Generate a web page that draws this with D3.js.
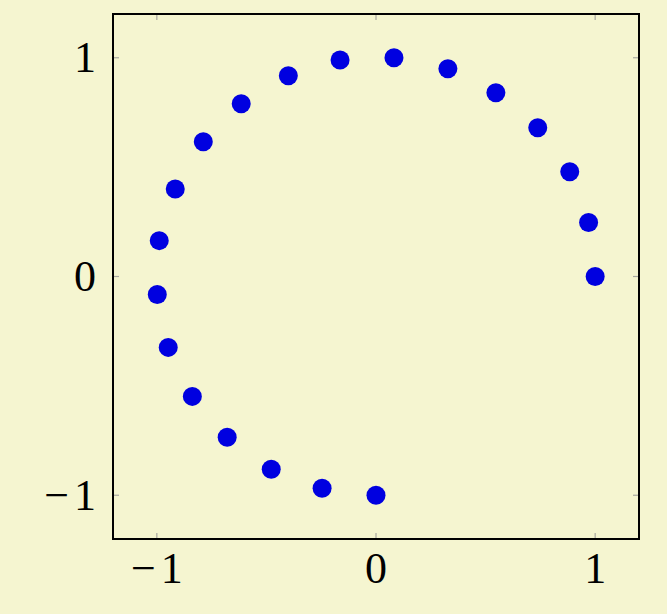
<!DOCTYPE html>
<html><head><meta charset="utf-8">
<script src="https://cdn.jsdelivr.net/npm/d3@7"></script>
<style>
body{margin:0;background:#f5f5d0;}
svg{display:block;}
text{font-family:"Liberation Serif","DejaVu Serif",serif;}
</style></head>
<body><svg id="c" width="667" height="614"></svg>
<script>
const xValues = [1.0, 0.97, 0.884, 0.738, 0.547, 0.328, 0.082, -0.164, -0.40, -0.615, -0.788, -0.916, -0.989, -0.998, -0.948, -0.838, -0.679, -0.478, -0.246, 0.0];
const yValues = [0.0, 0.247, 0.479, 0.68, 0.84, 0.95, 1.0, 0.99, 0.918, 0.79, 0.616, 0.40, 0.164, -0.082, -0.324, -0.548, -0.735, -0.881, -0.968, -1.0];
const xTicks = [-1, 0, 1];
const yTicks = [-1, 0, 1];
const tickLabels = ["\u22121", "0", "1"];

const svg = d3.select("#c");
const L = 113, R = 639, T = 14, B = 539;
const x = d3.scaleLinear().domain([-1.2, 1.2]).range([L, R]);
const y = d3.scaleLinear().domain([-1.2, 1.2]).range([B, T]);

const g = svg.append("g");
xTicks.forEach(t => {
  g.append("line").attr("x1", x(t)).attr("x2", x(t)).attr("y1", B).attr("y2", B - 6).attr("stroke", "#a8a8a0").attr("stroke-width", 1.2);
  g.append("line").attr("x1", x(t)).attr("x2", x(t)).attr("y1", T).attr("y2", T + 6).attr("stroke", "#a8a8a0").attr("stroke-width", 1.2);
});
yTicks.forEach(t => {
  g.append("line").attr("y1", y(t)).attr("y2", y(t)).attr("x1", L).attr("x2", L + 6).attr("stroke", "#a8a8a0").attr("stroke-width", 1.2);
  g.append("line").attr("y1", y(t)).attr("y2", y(t)).attr("x1", R).attr("x2", R - 6).attr("stroke", "#a8a8a0").attr("stroke-width", 1.2);
});
g.selectAll("circle").data(xValues.map((v, i) => [v, yValues[i]])).enter()
  .append("circle").attr("cx", d => x(d[0])).attr("cy", d => y(d[1])).attr("r", 9.5).attr("fill", "#0000e0");
g.append("rect").attr("x", L).attr("y", T).attr("width", R - L).attr("height", B - T)
  .attr("fill", "none").attr("stroke", "#000").attr("stroke-width", 2);

function label(sel, s) {
  if (s.startsWith("\u2212")) {
    sel.append("tspan").text("\u2212");
    sel.append("tspan").attr("dx", 5).text(s.slice(1));
  } else {
    sel.text(s);
  }
}
xTicks.forEach((t, i) => {
  const tx = g.append("text").attr("x", x(t)).attr("y", 583).attr("text-anchor", "middle").attr("font-size", 44);
  label(tx, tickLabels[i]);
});
yTicks.forEach((t, i) => {
  const tx = g.append("text").attr("x", L - 17).attr("y", y(t)).attr("dy", "0.33em").attr("text-anchor", "end").attr("font-size", 44);
  label(tx, tickLabels[i]);
});
</script></body></html>
